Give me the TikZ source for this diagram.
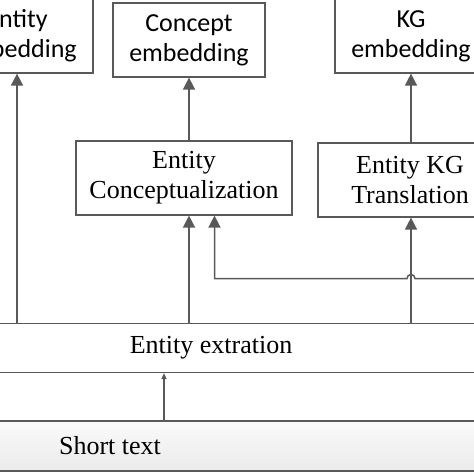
\documentclass[tikz,border=0pt]{standalone}
\usepackage{fontspec}
\setmainfont{Liberation Serif}
\newfontfamily\calib{Carlito}
\usetikzlibrary{arrows.meta}
\definecolor{linegray}{RGB}{89,89,89}
\tikzset{
	box/.style={draw=linegray, line width=1.2pt, fill=white, align=center, inner sep=0pt,
		minimum width=152pt, minimum height=74pt, font=\calib\fontsize{26}{30}\selectfont},
	midbox/.style={box, font=\fontsize{26}{30}\selectfont},
	band/.style={draw=linegray, line width=1.2pt, inner sep=0pt, font=\fontsize{26}{30}\selectfont},
	arr/.style={draw=linegray, line width=1.5pt, -{Triangle[length=12pt,width=12pt]}},
	arrs/.style={draw=linegray, line width=1.5pt, -{Triangle[length=6pt,width=5pt]}}
}
\begin{document}
\begin{tikzpicture}[x=1pt,y=-1pt]
		\useasboundingbox (0,0) rectangle (474,474);
		\clip (0,0) rectangle (474,474);
		
		\node[box] (entemb) at (17,36) {Entity\\embedding};
		\node[box] (conemb) at (189,40) {Concept\\embedding};
		\node[box] (kgemb) at (411,36) {KG\\embedding};
		\node[midbox, minimum width=216pt] (concept) at (184,178) {Entity\\Conceptualization};
		\node[midbox, minimum width=184pt] (trans) at (410,180) {Entity KG\\Translation};
		\node[band, minimum width=540pt, minimum height=49pt] (extr) at (211,348) {Entity extration};
		\node[band, minimum width=760pt, minimum height=50pt, top color=white!98!black, bottom color=white!92!black] (short) at (110,446) {Short text};
		
		\coordinate (feed) at (490,278.5);
		\coordinate (hopR) at (415,278.5);
		\coordinate (sidein) at (214.5,278.5);
		\coordinate (lowup) at (164,0);
		
		\draw[arr] (entemb.south |- extr.north) -- (entemb.south);
		\draw[arr] (conemb.south |- concept.north) -- (conemb.south);
		\draw[arr] (kgemb.south |- trans.north) -- (kgemb.south);
		\draw[arr] (conemb.south |- extr.north) -- (conemb.south |- concept.south);
		\draw[arr] (kgemb.south |- extr.north) -- (kgemb.south |- trans.south);
		\draw[arr] (feed) -- (hopR) arc (0:-180:4) -- (sidein) -- (sidein |- concept.south);
		\draw[arrs] (lowup |- short.north) -- (lowup |- extr.south);
	\end{tikzpicture}
\end{document}
